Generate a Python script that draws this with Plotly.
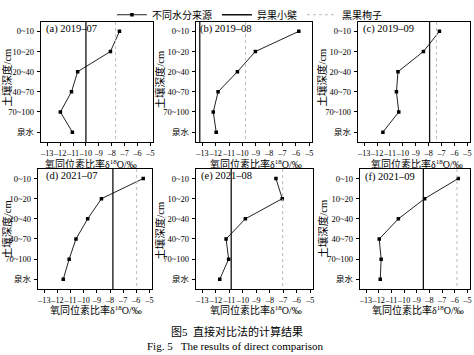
import plotly.graph_objects as go

W, H = 474, 355

depth_labels = ["0~10", "10~20", "20~40", "40~70", "70~100", "泉水"]
depth_pos = [0, 1, 2, 3, 4, 5]
x_ticks = [-13, -12, -11, -10, -9, -8, -7, -6, -5]
x_ticktext = ["–13", "–12", "–11", "–10", "–9", "–8", "–7", "–6", "–5"]

panel_titles = ["(a) 2019–07", "(b) 2019–08", "(c) 2019–09",
                "(d) 2021–07", "(e) 2021–08", "(f) 2021–09"]

# δ18O of water sources (不同水分来源), order: 0~10, 10~20, 20~40, 40~70, 70~100, 泉水
src_a = [-7.4, -8.1, -10.64, -11.12, -11.98, -11.05]
src_b = [-5.79, -9.04, -10.38, -11.83, -12.19, -11.97]
src_c = [-7.17, -8.41, -10.38, -10.5, -10.32, -11.55]
src_d = [-5.47, -8.65, -9.7, -10.59, -11.11, -11.56]
src_e = [-7.55, -7.08, -9.82, -11.25, -11.06, -11.72]
src_f = [-5.73, -8.38, -10.45, -11.96, -11.81, -11.88]
sources = [src_a, src_b, src_c, src_d, src_e, src_f]

# 异果小檗 (solid) and 黑果栒子 (dashed) xylem water δ18O
berberis = [-10.0, -13.2, -7.93, -7.78, -10.87, -8.48]
cotoneaster = [-7.7, -9.77, -7.4, -5.97, -7.05, -5.83]

x_range = [-13.5, -4.8]
y_range = [5.5, -0.47]

# panel boxes in pixels (left, right, top, bottom)
boxes = [(40, 153, 20, 141), (196, 313, 20, 141), (359, 472, 20, 141),
         (37, 152, 168, 289), (196, 314, 168, 289), (361, 472, 168, 289)]
label_pos = [(43, 27), (198, 27), (362, 27), (43, 175), (199, 175), (364, 176)]
ytitle_pos = [(6, 76), (160, 78), (323, 76), (5.5, 228), (160, 230), (324, 228)]
xtitle_pos = [(91, 163), (257, 163), (419, 163), (96, 310), (257, 310), (420, 310)]

serif = "Liberation Serif, Noto Sans CJK SC"
fig = go.Figure()
annotations = []

for i in range(6):
    l, r, t, b = boxes[i]
    ax = "" if i == 0 else str(i + 1)
    xa, ya = "x" + ax, "y" + ax
    fig.add_trace(go.Scatter(
        x=sources[i], y=depth_pos, xaxis=xa, yaxis=ya, mode="lines+markers",
        line=dict(color="#222", width=1), marker=dict(symbol="square", size=3.5, color="#000"),
        name="不同水分来源", legendgroup="s", showlegend=(i == 0)))
    fig.add_trace(go.Scatter(
        x=[berberis[i], berberis[i]], y=[y_range[1], y_range[0]], xaxis=xa, yaxis=ya,
        mode="lines", line=dict(color="#111", width=1.3),
        name="异果小檗", legendgroup="b", showlegend=(i == 0)))
    fig.add_trace(go.Scatter(
        x=[cotoneaster[i], cotoneaster[i]], y=[y_range[1], y_range[0]], xaxis=xa, yaxis=ya,
        mode="lines", line=dict(color="#bbb", width=1, dash="dot"),
        name="黑果栒子", legendgroup="c", showlegend=(i == 0)))
    common = dict(showline=True, mirror=True, linecolor="#000", linewidth=1,
                  showgrid=False, zeroline=False, ticks="outside", ticklen=3,
                  tickcolor="#000")
    fig.update_layout(**{
        "xaxis" + ax: dict(domain=[l / W, r / W], range=x_range, tickvals=x_ticks,
                           ticktext=x_ticktext, anchor=ya, tickangle=0,
                           ticklabelstandoff=0,
                           tickfont=dict(family=serif, size=8.2, color="#000"), **common),
        "yaxis" + ax: dict(domain=[1 - b / H, 1 - t / H], range=y_range,
                           tickvals=depth_pos, ticktext=depth_labels, anchor=xa,
                           ticklabelstandoff=1,
                           tickfont=dict(family=serif, size=8.5, color="#000"), **common),
    })
    lx, ly = label_pos[i]
    annotations.append(dict(text=panel_titles[i], x=lx / W, y=1 - ly / H, xref="paper",
                            yref="paper", xanchor="left", yanchor="middle", showarrow=False,
                            font=dict(family=serif, size=10.5, color="#000")))
    tx, ty = ytitle_pos[i]
    annotations.append(dict(text="土壤深度/cm", x=tx / W, y=1 - ty / H, xref="paper",
                            yref="paper", xanchor="center", yanchor="middle", textangle=-90,
                            showarrow=False, font=dict(family=serif, size=10.5, color="#000")))
    tx, ty = xtitle_pos[i]
    annotations.append(dict(text="氧同位素比率δ<sup>18</sup>O/‰", x=tx / W, y=1 - ty / H,
                            xref="paper", yref="paper", xanchor="center", yanchor="middle",
                            showarrow=False, font=dict(family=serif, size=10, color="#000")))

annotations.append(dict(text="图5  直接对比法的计算结果", x=238 / W, y=1 - 331 / H, xref="paper",
                        yref="paper", showarrow=False, xanchor="center", yanchor="middle",
                        font=dict(family=serif, size=11, color="#000")))
annotations.append(dict(text="Fig. 5   The results of direct comparison", x=236 / W,
                        y=1 - 346 / H, xref="paper", yref="paper", showarrow=False,
                        xanchor="center", yanchor="middle",
                        font=dict(family=serif, size=11, color="#000")))

fig.update_layout(
    width=W, height=H, margin=dict(l=0, r=0, t=0, b=0),
    paper_bgcolor="white", plot_bgcolor="white",
    showlegend=True,
    legend=dict(orientation="h", x=250 / W, xanchor="center", y=1.005, yanchor="top",
                font=dict(family=serif, size=10, color="#000"), itemwidth=30,
                bgcolor="rgba(0,0,0,0)", tracegroupgap=0),
    annotations=annotations,
)

fig.write_html("out.html")
